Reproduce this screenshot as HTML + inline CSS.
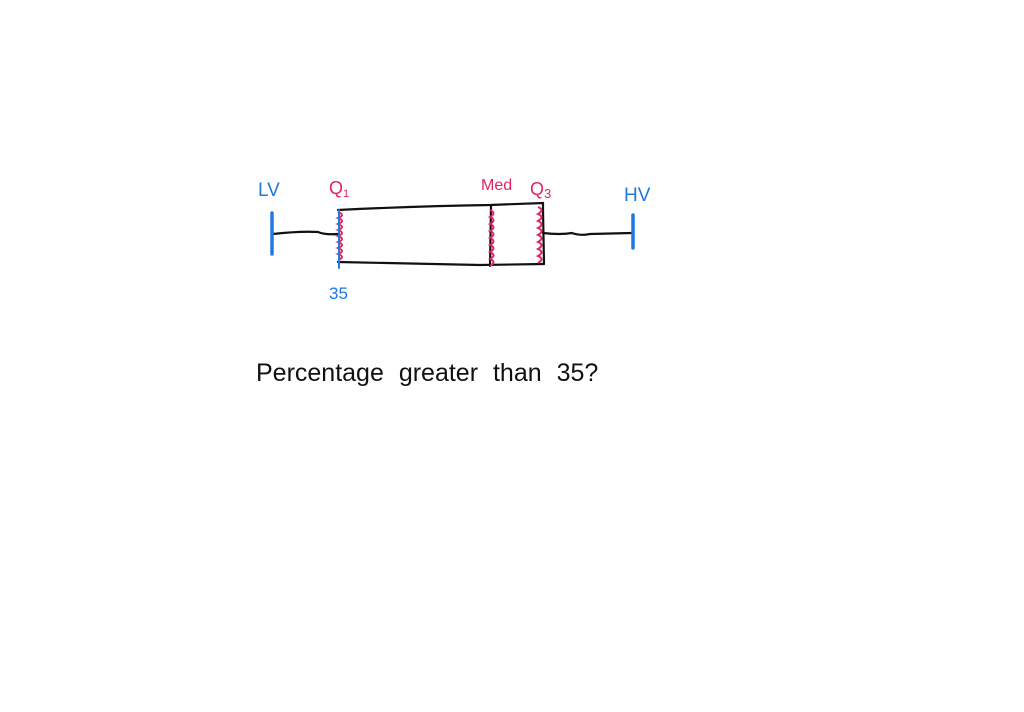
<!DOCTYPE html>
<html><head><meta charset="utf-8"><style>
html,body{margin:0;padding:0;background:#fff;}
svg{display:block}
text{font-family:"Liberation Sans",sans-serif;}
</style></head><body>
<svg width="1024" height="712" viewBox="0 0 1024 712" xmlns="http://www.w3.org/2000/svg">
<g fill="none" stroke="#111" stroke-width="2.2" stroke-linecap="round">
<path d="M273 234 Q300 231 318 232 Q325 235 338 234"/>
<path d="M338 210 Q420 206 490 205 L543 203 L543 210"/>
<path d="M338 262 Q420 264 480 265 L544 264"/>
<path d="M491 206 L490 266"/>
<path d="M543 210 L544 264"/>
<path d="M543 233 Q560 235 572 233 Q580 236 590 234 L632 233"/>
</g>
<g fill="none" stroke="#e0245e" stroke-width="2">
<path d="M338 212 q8 3 0 6 q8 3 0 6 q8 3 0 6 q8 3 0 6 q8 3 0 6 q8 3 0 6 q8 3 0 6 q8 3 0 6"/>
<path d="M490 210 q7 3 0 7 q7 3 0 7 q7 3 0 7 q7 3 0 7 q7 3 0 7 q7 3 0 7 q7 3 0 7 q7 3 0 7"/>
<path d="M538 207 q7 3 0 7 q7 3 0 7 q7 3 0 7 q7 3 0 7 q7 3 0 7 q7 3 0 7 q7 3 0 7 q7 3 0 7"/>
</g>
<g stroke="#1f7ae0" stroke-width="3.5" stroke-linecap="round">
<path d="M272 213 L272 254"/>
<path d="M633 215 L633 248"/>
<path d="M339 210 L339 268" stroke-width="2"/>
</g>
<g font-size="19" fill="#1f7ae0">
<text x="258" y="196">LV</text>
<text x="624" y="201">HV</text>
<text x="329" y="299" font-size="17">35</text>
</g>
<g font-size="18" fill="#e0245e">
<text x="329" y="194">Q<tspan font-size="11" dy="3">1</tspan></text>
<text x="481" y="190" font-size="16">Med</text>
<text x="530" y="195">Q<tspan font-size="13" dy="3">3</tspan></text>
</g>
<text x="256" y="381" font-size="25" fill="#111" word-spacing="8">Percentage greater than 35?</text>
</svg>
</body></html>
